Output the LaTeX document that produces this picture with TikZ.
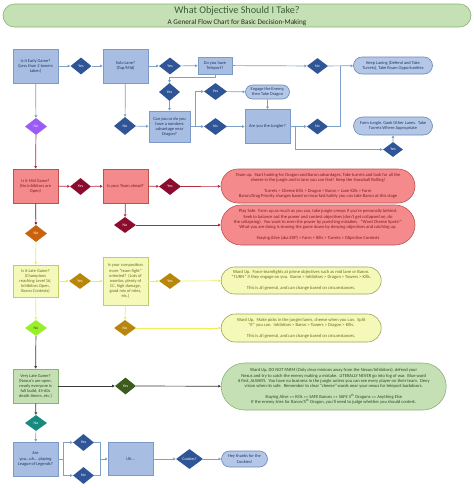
\documentclass[tikz,border=0pt]{standalone}
\usepackage{fontspec}
\setmainfont{Carlito}
\usetikzlibrary{shapes.geometric,shapes.misc,arrows.meta}
\definecolor{bfill}{HTML}{A7BDE2}
\definecolor{bborder}{HTML}{7D99C8}
\definecolor{btext}{HTML}{1F3864}
\definecolor{btfill}{HTML}{B4C7E7}
\definecolor{btborder}{HTML}{6C86B5}
\definecolor{bdia}{HTML}{2F5597}
\definecolor{bline}{HTML}{7EA0CB}
\definecolor{rfill}{HTML}{F48A8C}
\definecolor{rborder}{HTML}{C0504D}
\definecolor{rtext}{HTML}{7F1F1F}
\definecolor{rdia}{HTML}{8C0C2E}
\definecolor{rline}{HTML}{B4283C}
\definecolor{yfill}{HTML}{F4F8B8}
\definecolor{yborder}{HTML}{C4CC66}
\definecolor{ytext}{HTML}{6E6E1A}
\definecolor{ydia}{HTML}{B8860B}
\definecolor{yline}{HTML}{EEEE55}
\definecolor{gfill}{HTML}{C5E0B4}
\definecolor{gborder}{HTML}{8AB273}
\definecolor{gtext}{HTML}{2E4A22}
\definecolor{gdia}{HTML}{3E5B1E}
\definecolor{gline}{HTML}{3A3A3A}
\definecolor{pdia}{HTML}{9B5CF5}
\definecolor{odia}{HTML}{C9620C}
\definecolor{ldia}{HTML}{9AEE2A}
\definecolor{tdia}{HTML}{148B7E}
\definecolor{titlec}{HTML}{3B5E3B}
\tikzset{
  base/.style={font=\fontsize{4.4}{5.1}\selectfont, align=center, inner sep=0.5pt, line width=0.6pt},
  tbase/.style={base, font=\fontsize{4.55}{5.3}\selectfont},
  bbox/.style={base, rectangle, draw=bborder, fill=bfill, text=btext, minimum width=45pt, minimum height=34pt},
  rbox/.style={base, rectangle, draw=rborder, fill=rfill, text=rtext, minimum width=45pt, minimum height=34pt},
  ybox/.style={base, rectangle, draw=yborder, fill=yfill, text=ytext, minimum width=45pt, minimum height=34pt},
  gbox/.style={base, rectangle, draw=gborder, fill=gfill, text=gtext, minimum width=45pt, minimum height=34pt},
  bterm/.style={base, rounded rectangle, draw=btborder, fill=btfill, text=btext},
  rterm/.style={tbase, rounded rectangle, draw=rborder, fill=rfill, text=rtext},
  yterm/.style={tbase, rounded rectangle, draw=yborder!80!black, fill=yfill, text=ytext},
  gterm/.style={tbase, rounded rectangle, draw=gborder, fill=gfill, text=gtext},
  dia/.style={diamond, inner sep=0pt, font=\fontsize{3.9}{4.5}\selectfont, text=white, minimum width=21pt, minimum height=17pt},
  conn/.style={line width=0.7pt, -{Triangle[length=2.6pt,width=2.6pt]}},
  bconn/.style={conn, draw=bline},
  rconn/.style={conn, draw=rline},
  yconn/.style={conn, draw=yline},
  gconn/.style={conn, draw=gline},
  bplain/.style={line width=0.7pt, draw=bline},
}
\begin{document}
\begin{tikzpicture}[x=1pt,y=-1pt]
\useasboundingbox (0,0) rectangle (474,488);
\fill[white] (0,0) rectangle (474,488);
% title
\node[rounded rectangle, draw=gborder, fill=gfill, line width=0.6pt, minimum width=468pt, minimum height=23pt, inner sep=0pt] (title) at (237,15.5) {};
\node[font=\fontsize{10.2}{12}\selectfont, text=titlec, inner sep=0pt] (t1t) at (237,10.5) {What Objective Should I Take?};
\node[font=\fontsize{7.2}{8}\selectfont, text=black!85, inner sep=0pt] (t2t) at (237,22.5) {A General Flow Chart for Basic Decision-Making};

% ===== Early game (blue)
\node[bbox] (early) at (35.5,66) {Is it Early Game?\\(Less than 2 towers\\taken)};
\node[dia, fill=bdia] (y1) at (81,66) {Yes};
\node[bbox] (solo) at (125.5,66) {Solo Lane?\\(Top/Mid)};
\node[dia, fill=bdia, minimum width=22pt] (y2) at (170,66) {Yes};
\node[bbox, minimum width=34pt, minimum height=17pt] (tele) at (215,65.5) {Do you have\\Teleport?};
\node[dia, fill=bdia, minimum height=16pt] (n1) at (317.5,66) {No};
\node[bterm, minimum width=80pt, minimum height=17pt] (keep) at (393,65.5) {Keep Laning (Defend and Take\\Turrets), Take Roam Opportunities};
\node[dia, fill=bdia, minimum height=18pt] (y3) at (169.5,92) {Yes};
\node[dia, fill=bdia, minimum width=22pt, minimum height=18pt] (nsolo) at (125,126) {No};
\node[bbox, minimum width=41pt, minimum height=31pt] (canyou) at (169.5,126.5) {Can you or do you\\have a numbers\\advantage near\\Dragon?};
\node[dia, fill=bdia, minimum width=23pt] (y4) at (215.5,91.5) {Yes};
\node[dia, fill=bdia, minimum width=23pt] (n4) at (215.5,126.5) {No};
\node[bterm, minimum width=45pt, minimum height=14pt] (engage) at (267.5,92) {Engage the Enemy,\\then Take Dragon};
\node[bbox] (jungler) at (267.5,126.5) {Are you the Jungler?};
\node[dia, fill=bdia, minimum height=16pt] (n5) at (317.5,126.5) {No};
\node[dia, fill=bdia, minimum width=20pt, minimum height=15pt] (yj) at (393,149.5) {Yes};
\node[bterm, minimum width=80pt, minimum height=18pt] (farm) at (393,126) {Farm Jungle, Gank Other Lanes.\ \ Take\\Turrets Where Appropriate};
\node[dia, fill=pdia, minimum width=22pt, text=white!85!pdia] (nearly) at (36,126.5) {No};

\draw[bconn] (early) -- (y1);
\draw[bconn] (y1) -- (solo);
\draw[bconn] (solo) -- (y2);
\draw[bconn] (y2) -- (tele);
\draw[bconn] (tele) -- (n1);
\draw[bconn] (n1) -- (keep);
\draw[bconn] (tele.south) -- ++(0,3) -| (y3.north);
\draw[bconn] (y3) -- (canyou);
\draw[bconn] (solo) -- (nsolo);
\draw[bconn] (nsolo) -- (canyou);
\draw[bconn] (canyou.east) -- (n4.west);
\coordinate (cb) at (195,126.5);
\draw[bconn] (cb) |- (y4.west);
\draw[bconn] (y4) -- (engage);
\draw[bconn] (engage) -- (jungler);
\draw[bconn] (n4) -- (jungler);
\draw[bconn] (jungler.east) -- (n5.west);
\coordinate (jn) at (340,66);
\draw[bplain] (n5.east) -| (jn);
\coordinate (jb) at (295,126.5);
\draw[bconn] (jb) |- (yj.west);
\draw[bconn] (yj) -- (farm);
\draw[bconn] (early) -- (nearly);

% ===== Mid game (red)
\node[rbox] (mid) at (35.5,186) {Is it Mid Game?\\(No Inhibitors are\\Open)};
\node[dia, fill=rdia] (ym) at (80.5,186.5) {Yes};
\node[rbox] (ahead) at (125.5,186) {Is your Team ahead?};
\node[dia, fill=rdia, minimum width=22pt] (ya) at (170,186.5) {Yes};
\node[rterm, minimum width=195pt, minimum height=34pt] (ta) at (318,186) {Team up.\ \ Start looking for Dragon and Baron advantages, Take turrets and look for all the\\cheese in the jungle and in lane you can find!\ \ Keep the Snowball Rolling!\\[5.5pt]Turrets {>} Cheese Kills {>} Dragon {>} Baron {>} Lane Kills {>} Farm\\Baron/Drag Priority changes based on how fast/safely you can take Baron at this stage};
\node[dia, fill=rdia, minimum width=22pt, minimum height=16pt] (na) at (125,225) {No};
\node[rterm, minimum width=195pt, minimum height=40pt] (tb) at (318,225) {Play Safe.\ \ Farm up as much as you can, take jungle creeps if you're personally behind.\\Seek to balance out the power and contest objectives (don't get collapsed on, do\\the collapsing).\ \ You want to even the power by punishing mistakes.\ \ *Ward Cheese Spots!*\\What you are doing is slowing the game down by denying objectives and catching up.\\[5.5pt]Staying Alive (aka EXP) {>} Farm {>} Kills {>} Turrets {>} Objective Contests};
\node[dia, fill=odia, minimum width=22pt] (nmid) at (36,233.5) {No};

\draw[rconn] (nearly) -- (mid);
\draw[rconn] (mid) -- (ym);
\draw[rconn] (ym) -- (ahead);
\draw[rconn] (ahead) -- (ya);
\draw[rconn] (ya) -- (ta);
\draw[rconn] (ahead) -- (na);
\draw[rconn] (na) -- (tb);
\draw[conn, draw=rline!60!black] (mid) -- (nmid);

% ===== Late game (yellow)
\node[ybox, minimum height=32pt] (late) at (35.5,281) {Is it Late Game?\\(Champions\\reaching Level 16,\\Inhibitors Open,\\Baron Contests)};
\node[dia, fill=ydia, minimum width=22pt, minimum height=16pt] (yl) at (80,281) {Yes};
\node[ybox, minimum height=48pt] (comp) at (125.5,281) {Is your composition\\more ``team fight''\\oriented?\ \ (Lots of\\wombo, plenty of\\CC, high damage,\\good mix of roles,\\etc.)};
\node[dia, fill=ydia, minimum width=22pt, minimum height=16pt] (yc) at (170,281) {Yes};
\node[yterm, minimum width=161pt, minimum height=27pt] (tc) at (301.2,280.5) {Ward Up.\ \ Force teamfights at prime objectives such as mid lane or Baron.\\*TURN* if they engage on you.\ \ Baron {>} Inhibitors {>} Dragon {>} Towers {>} Kills.\\[5.5pt]This is all general, and can change based on circumstances.};
\node[dia, fill=ydia, minimum width=22pt, minimum height=16pt] (nc) at (125,328) {No};
\node[yterm, minimum width=161pt, minimum height=28pt] (td) at (301.2,328) {Ward Up.\ \ Make picks in the jungle/lanes, cheese when you can.\ \ Split\\*if* you can.\ \ Inhibitors {>} Baron {>} Towers {>} Dragon {>} Kills.\\[5.5pt]This is all general, and can change based on circumstances.};
\node[dia, fill=ldia, minimum width=22pt, minimum height=16pt, text=gtext] (nlate) at (36,328) {No};

\draw[yconn] (nmid) -- (late);
\draw[yconn] (late) -- (yl);
\draw[yconn] (yl) -- (comp);
\draw[yconn] (comp) -- (yc);
\draw[yconn] (yc) -- (tc);
\draw[yconn] (comp) -- (nc);
\draw[yconn] (nc) -- (td);
\draw[yconn] (late) -- (nlate);

% ===== Very late (green)
\node[gbox] (vlate) at (35.5,386) {Very Late Game?\\(Nexus's are open,\\nearly everyone is\\full build, 45-60s\\death timers, etc.)};
\node[dia, fill=gdia] (yv) at (125.5,386) {Yes};
\node[gterm, minimum width=226pt, minimum height=47pt] (te) at (333.7,386.5) {Ward Up, DO NOT FARM (Only clear minions away from the Nexus/Inhibitors), defend your\\Nexus and try to catch the enemy making a mistake.\ \ LITERALLY NEVER go into fog of war.\ \ Blue ward\\it first, ALWAYS.\ \ You have no business in the jungle unless you can see every player on their team.\ \ Deny\\vision when its safe.\ \ Remember to clear ``cheese'' wards near your nexus for teleport backdoors.\\[5.5pt]Staying Alive {>>>>} Kills {>>>>} SAFE Barons {>>>>} SAFE 5\textsuperscript{th} Dragons {>>>>} Anything Else\\If the enemy tries for Baron/5\textsuperscript{th} Dragon, you'll need to judge whether you should contest.};
\node[dia, fill=tdia, minimum width=22pt, minimum height=16pt] (nv) at (36,423) {No};

\draw[gconn] (nlate) -- (vlate);
\draw[gconn] (vlate) -- (yv);
\draw[gconn] (yv) -- (te);
\draw[gconn] (vlate) -- (nv);

% ===== Last (blue)
\node[bbox] (lol) at (35.5,459) {Are\\you...uh... playing\\League of Legends?};
\node[dia, fill=bdia] (yy) at (83.5,442.5) {Yes};
\node[dia, fill=bdia] (nn) at (83.5,475.5) {No};
\node[bbox, minimum height=33pt] (uh) at (130.5,459) {Uh...};
\node[dia, fill=bdia, minimum width=27pt, minimum height=20pt] (cook) at (189.5,459) {Cookies?};
\node[bterm, minimum width=47pt, minimum height=16pt] (thanks) at (244.5,459) {Hey thanks for the\\Cookies!};

\draw[bconn] (nv) -- (lol);
\coordinate (lb) at (63,459);
\draw[bplain] (lol.east) -- (lb);
\draw[bconn] (lb) |- (yy.west);
\draw[bconn] (lb) |- (nn.west);
\coordinate (ub) at (100.7,459);
\draw[bplain] (yy.east) -| (ub);
\draw[bplain] (nn.east) -| (ub);
\draw[bconn] (ub) -- (uh.west);
\draw[bconn] (uh) -- (cook);
\draw[bconn] (cook) -- (thanks);
\end{tikzpicture}
\end{document}
